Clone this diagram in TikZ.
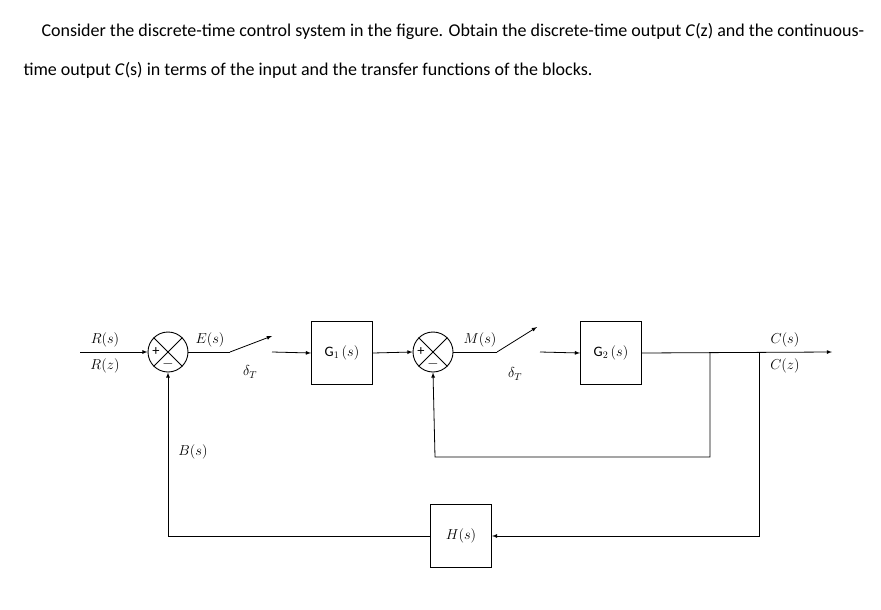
\documentclass[tikz,border=0pt]{standalone}
\usepackage{fontspec}
\setmainfont{Carlito}
\begin{document}
\begin{tikzpicture}[x=1pt,y=-1pt,
  blk/.style={draw,line width=0.9pt,minimum width=61pt,minimum height=63pt,inner sep=0pt,font=\Large},
  sum/.style={draw,circle,line width=0.9pt,minimum size=40pt,inner sep=0pt},
  ln/.style={line width=0.8pt},
  ar/.style={ln,-latex},
  lab/.style={font=\Large,inner sep=0pt}]
\useasboundingbox (0,0) rectangle (881,610);
\node[anchor=west,font=\fontsize{18}{20}\selectfont] (t1) at (38,31) {Consider the discrete-time control system in the figure. Obtain the discrete-time output \textit{C}(z) and the continuous-};
\node[anchor=west,font=\fontsize{18}{20}\selectfont] (t2) at (20,70) {time output \textit{C}(s) in terms of the input and the transfer functions of the blocks.};
\node[sum] (s1) at (168,352) {};
\draw[ln] (s1.45)--(s1.225) (s1.135)--(s1.315);
\node[font=\Large] at (156,352) {+};
\node[font=\Large] at (168,364) {$-$};
\node[sum] (s2) at (433,352) {};
\draw[ln] (s2.45)--(s2.225) (s2.135)--(s2.315);
\node[font=\Large] at (421,352) {+};
\node[font=\Large] at (433,364) {$-$};
\node[blk] (g1) at (342,353) {$\mathrm{G}_1\,(s)$};
\node[blk] (g2) at (611,353) {$\mathrm{G}_2\,(s)$};
\node[blk] (h) at (461,536) {$H(s)$};
\coordinate (in) at (80,352);
\coordinate (p1) at (230,352);
\coordinate (q1) at (272,336);
\coordinate (r1) at (272,352);
\coordinate (p2) at (497,352);
\coordinate (q2) at (537,327);
\coordinate (r2) at (540,352);
\coordinate (b1) at (710,352);
\coordinate (b2) at (759,352);
\coordinate (out) at (832,352);
\draw[ar] (in)--(s1.west);
\draw[ln] (s1.east)--(p1);
\draw[ar] (p1)--(q1);
\draw[ar] (r1)--(g1.west);
\draw[ar] (g1.east)--(s2.west);
\draw[ln] (s2.east)--(p2);
\draw[ar] (p2)--(q2);
\draw[ar] (r2)--(g2.west);
\draw[ar] (g2.east)--(out);
\draw[ar] (b1)--(710,457)--(435,457)--(s2.south);
\draw[ar] (b2)--(759,536)--(h.east);
\draw[ar] (h.west)--(168,536)--(s1.south);
\node[lab] at (105,340) {$R(s)$};
\node[lab] at (105,366) {$R(z)$};
\node[lab] at (210,340) {$E(s)$};
\node[lab] at (193,452) {$B(s)$};
\node[lab] at (480,340) {$M(s)$};
\node[lab] at (785,340) {$C(s)$};
\node[lab] at (785,366) {$C(z)$};
\node[font=\Large] at (250,372) {$\delta_T$};
\node[font=\Large] at (515,374) {$\delta_T$};
\end{tikzpicture}
\end{document}
